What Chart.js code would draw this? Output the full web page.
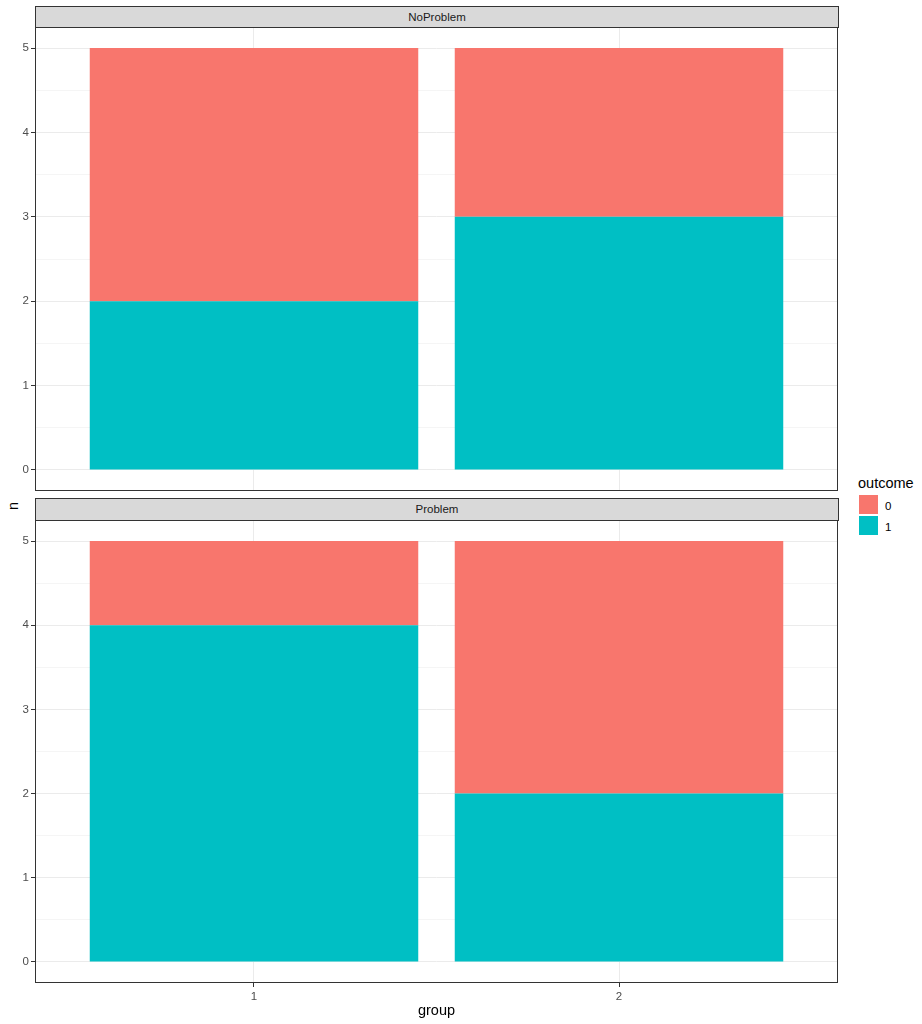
<!DOCTYPE html>
<html><head><meta charset="utf-8">
<script src="https://cdn.jsdelivr.net/npm/chart.js@4.4.1/dist/chart.umd.min.js"></script>
<style>
html,body{margin:0;padding:0;background:#fff;width:922px;height:1024px;overflow:hidden;font-family:"Liberation Sans",Arial,sans-serif;}
.abs{position:absolute;}
.strip{position:absolute;left:35px;width:802px;background:#D9D9D9;border:1px solid #333;box-sizing:content-box;font-size:11.5px;color:#1A1A1A;text-align:center;}
.legkey{position:absolute;width:19px;height:19px;}
.leglab{position:absolute;font-size:11.5px;color:#000;}
</style></head>
<body>
<div class="strip" style="top:6px;height:20px;line-height:20px;">NoProblem</div>
<div class="strip" style="top:498px;height:21px;line-height:21px;">Problem</div>
<div class="abs" style="left:0;top:23px;width:842px;height:472px;"><canvas id="c1" width="842" height="472"></canvas></div>
<div class="abs" style="left:0;top:516px;width:842px;height:508px;"><canvas id="c2" width="842" height="508"></canvas></div>
<div class="abs" style="left:0;top:1002px;width:873px;text-align:center;font-size:14.5px;color:#000;">group</div>
<div class="abs" style="left:5px;top:497px;width:16px;height:18px;font-size:14.5px;color:#000;transform:rotate(-90deg);text-align:center;line-height:18px;">n</div>
<div id="legend"></div>
<script>
// ---- data ----
const groups = [1, 2];
const groupLabels = ['1', '2'];
const facets = ['NoProblem', 'Problem'];
const outcomes = ['0', '1'];
const outcomeColors = ['#F8766D', '#00BFC4'];
const noProblem_outcome1 = [2, 3];
const noProblem_outcome0 = [3, 2];
const problem_outcome1 = [4, 2];
const problem_outcome0 = [1, 3];
const yTicks = [0, 1, 2, 3, 4, 5];

// ---- legend ----
const leg = document.getElementById('legend');
leg.innerHTML = '<div class="abs" style="left:858px;top:475px;font-size:14.5px;color:#000;">outcome</div>';
outcomes.forEach((o, i) => {
  const top = 495 + i * 21;
  leg.innerHTML += `<div class="legkey" style="left:859px;top:${top}px;background:${outcomeColors[i]}"></div>` +
    `<div class="leglab" style="left:885px;top:${top + 5}px;">${o}</div>`;
});

const borderPlugin = {
  id: 'panelBorder',
  afterDatasetsDraw(chart) {
    const a = chart.chartArea, ctx = chart.ctx;
    ctx.save();
    ctx.strokeStyle = '#333333';
    ctx.lineWidth = 1;
    ctx.strokeRect(Math.round(a.left) + 0.5, Math.round(a.top) + 0.5, Math.round(a.right - a.left) - 1, Math.round(a.bottom - a.top) - 1);
    ctx.restore();
  }
};

function makeChart(id, v1, v0, showX) {
  const mk = (arr) => groups.map((g, i) => ({ x: g, y: arr[i] }));
  return new Chart(document.getElementById(id), {
    type: 'bar',
    data: {
      datasets: [
        { label: outcomes[1], data: mk(v1), backgroundColor: outcomeColors[1], borderWidth: 0 },
        { label: outcomes[0], data: mk(v0), backgroundColor: outcomeColors[0], borderWidth: 0 }
      ]
    },
    options: {
      responsive: false,
      animation: false,
      layout: { padding: { top: 4, right: 4, bottom: showX ? 0 : 4, left: 0 } },
      datasets: { bar: { categoryPercentage: 1, barPercentage: 0.9 } },
      plugins: { legend: { display: false }, tooltip: { enabled: false } },
      scales: {
        x: {
          type: 'linear', min: 0.4, max: 2.6, stacked: true, offset: false,
          afterBuildTicks: (s) => { s.ticks = groups.map(v => ({ value: v })); },
          afterFit: (s) => { s.height = showX ? 41 : 0; s.paddingLeft = 0; s.paddingRight = 0; },
          border: { display: false },
          grid: { offset: false, color: '#EBEBEB', lineWidth: 1, drawTicks: showX, tickLength: 4, tickColor: '#333333' },
          ticks: {
            display: showX, padding: 3, color: '#4D4D4D', maxRotation: 0,
            font: { family: 'Liberation Sans', size: 11.5 },
            callback: (v) => groupLabels[groups.indexOf(v)] ?? ''
          }
        },
        y: {
          type: 'linear', min: -0.25, max: 5.25, stacked: true,
          afterBuildTicks: (s) => {
            const t = [];
            for (let i = 0; i < yTicks.length; i++) {
              t.push({ value: yTicks[i] });
              if (i < yTicks.length - 1) t.push({ value: (yTicks[i] + yTicks[i + 1]) / 2 });
            }
            s.ticks = t;
          },
          afterFit: (s) => { s.width = 35; s.paddingTop = 0; s.paddingBottom = 0; },
          border: { display: false },
          grid: {
            color: '#EBEBEB',
            lineWidth: (c) => (c.tick && yTicks.includes(c.tick.value)) ? 1 : 0.5,
            drawTicks: true, tickLength: 4,
            tickColor: (c) => (c.tick && yTicks.includes(c.tick.value)) ? '#333333' : 'rgba(0,0,0,0)'
          },
          ticks: {
            padding: 2, color: '#4D4D4D', autoSkip: false,
            font: { family: 'Liberation Sans', size: 11.5 },
            callback: (v) => yTicks.includes(v) ? String(v) : ''
          }
        }
      }
    },
    plugins: [borderPlugin]
  });
}
makeChart('c1', noProblem_outcome1, noProblem_outcome0, false);
makeChart('c2', problem_outcome1, problem_outcome0, true);
</script>
</body></html>
